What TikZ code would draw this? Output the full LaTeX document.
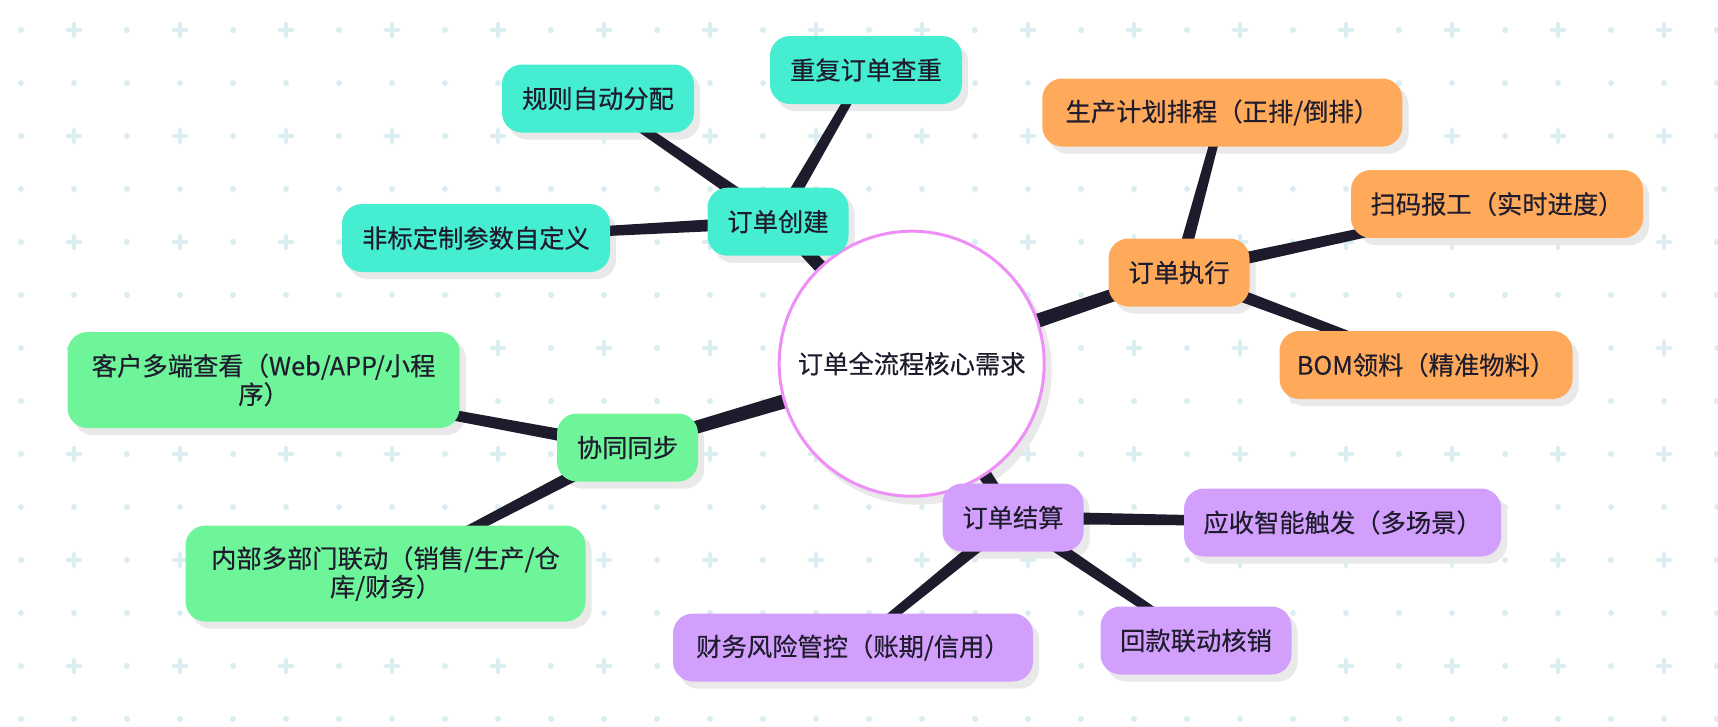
\documentclass[tikz,border=0pt]{standalone}
\usepackage{fontspec}
\newfontfamily\cjk[FakeBold=0.4]{Noto Sans CJK SC}
\usetikzlibrary{calc}
\definecolor{tealc}{HTML}{45EED0}
\definecolor{orangec}{HTML}{FFAA5A}
\definecolor{greenc}{HTML}{6EF59A}
\definecolor{purplec}{HTML}{D2A0FC}
\definecolor{pinkc}{HTML}{EE8FF7}
\definecolor{linec}{HTML}{1E1B2C}
\definecolor{textc}{HTML}{1F1C2E}
\definecolor{gridc}{HTML}{DAEEF2}
\definecolor{shadowc}{HTML}{E9E9E9}
\pgfdeclarelayer{gridlayer}
\pgfdeclarelayer{shadowlayer}
\pgfdeclarelayer{edgelayer}
\pgfsetlayers{gridlayer,shadowlayer,edgelayer,main}
\tikzset{
  box/.style={rounded corners=20pt, inner sep=0pt, align=center, minimum height=68pt,
    text=textc, font=\cjk\fontsize{25.3}{28.5}\selectfont},
  tealbox/.style={box, fill=tealc},
  orangebox/.style={box, fill=orangec},
  greenbox/.style={box, fill=greenc},
  purplebox/.style={box, fill=purplec},
  rootnode/.style={circle, draw=pinkc, line width=3pt, fill=white, minimum size=265pt,
    inner sep=0pt, text=textc, font=\cjk\fontsize{25.3}{28.5}\selectfont},
  dotmark/.style={fill=gridc},
  plusmark/.style={draw=gridc, line width=4.5pt, line cap=round},
  shadowfill/.style={fill=shadowc, rounded corners=20pt}
}
\newcommand\taperline[4]{\fill[linec] ($(#1)!#3!90:(#2)$) -- ($(#2)!#4!-90:(#1)$) -- ($(#2)!#4!90:(#1)$) -- ($(#1)!#3!-90:(#2)$) -- cycle;}
\newcommand\boxshadow[1]{\fill[shadowfill] ([shift={(6,7)}]#1.south west) rectangle ([shift={(6,7)}]#1.north east);}
\begin{document}
\begin{tikzpicture}[x=1pt,y=-1pt]
\useasboundingbox (0,0) rectangle (1718,726);
\begin{pgfonlayer}{gridlayer}
  \fill[white] (0,0) rectangle (1718,726);
  \foreach \k in {0,...,32} {
    \foreach \j in {1,3,...,13} {
      \fill[dotmark] ({21+53*\k},{30+53*\j}) circle (3pt);
    }
  }
  \foreach \k in {0,2,...,32} {
    \foreach \j in {0,2,...,12} {
      \fill[dotmark] ({21+53*\k},{30+53*\j}) circle (3pt);
    }
  }
  \foreach \k in {1,3,...,31} {
    \foreach \j in {0,2,...,12} {
      \draw[plusmark] ({21+53*\k-6},{30+53*\j}) -- ({21+53*\k+6},{30+53*\j})
                      ({21+53*\k},{30+53*\j-6}) -- ({21+53*\k},{30+53*\j+6});
    }
  }
\end{pgfonlayer}

% root
\node[rootnode] (root) at (911.7,363.7) {订单全流程核心需求};

% main branches
\node[tealbox, minimum width=141pt] (create) at (778,221.7) {订单创建};
\node[orangebox, minimum width=141pt] (exec) at (1179,272.5) {订单执行};
\node[greenbox, minimum width=141pt] (sync) at (627.5,447.5) {协同同步};
\node[purplebox, minimum width=141pt] (settle) at (1013,517.5) {订单结算};

% create leaves
\node[tealbox, minimum width=192pt] (rule) at (598,98.5) {规则自动分配};
\node[tealbox, minimum width=192pt] (dup) at (866,70) {重复订单查重};
\node[tealbox, minimum width=268pt] (param) at (476,238) {非标定制参数自定义};

% exec leaves
\node[orangebox, minimum width=360pt] (plan) at (1222.3,112.5) {生产计划排程（正排/倒排）};
\node[orangebox, minimum width=292pt] (scan) at (1497,204) {扫码报工（实时进度）};
\node[orangebox, minimum width=293pt] (bom) at (1426,365) {BOM领料（精准物料）};

% sync leaves
\node[greenbox, minimum width=392pt, minimum height=96pt] (cust) at (263.6,380) {客户多端查看（Web/APP/小程\\序）};
\node[greenbox, minimum width=400pt, minimum height=96pt] (dept) at (385.5,573.5) {内部多部门联动（销售/生产/仓\\库/财务）};

% settle leaves
\node[purplebox, minimum width=317pt] (recv) at (1342.6,522.5) {应收智能触发（多场景）};
\node[purplebox, minimum width=360pt] (risk) at (853,647.5) {财务风险管控（账期/信用）};
\node[purplebox, minimum width=191pt] (pay) at (1196,640.5) {回款联动核销};

\begin{pgfonlayer}{shadowlayer}
  \fill[shadowc] ($(root.center)+(6,7)$) circle (134pt);
  \foreach \n in {create,exec,sync,settle,rule,dup,param,plan,scan,bom,cust,dept,recv,risk,pay} {
    \boxshadow{\n}
  }
\end{pgfonlayer}

\begin{pgfonlayer}{edgelayer}
  \taperline{root}{create}{8pt}{6pt}
  \taperline{root}{exec}{8pt}{6pt}
  \taperline{root}{sync}{8pt}{6pt}
  \taperline{root}{settle}{8pt}{6pt}
  \taperline{create}{rule}{6.5pt}{4pt}
  \taperline{create}{dup}{6.5pt}{4pt}
  \taperline{create}{param}{6.5pt}{4pt}
  \taperline{exec}{plan}{6.5pt}{4pt}
  \taperline{exec}{scan}{6.5pt}{4pt}
  \taperline{exec}{bom}{6.5pt}{4pt}
  \taperline{sync}{cust}{6.5pt}{4pt}
  \taperline{sync}{dept}{6.5pt}{4pt}
  \taperline{settle}{recv}{6.5pt}{4pt}
  \taperline{settle}{risk}{6.5pt}{4pt}
  \taperline{settle}{pay}{6.5pt}{4pt}
\end{pgfonlayer}
\end{tikzpicture}
\end{document}
